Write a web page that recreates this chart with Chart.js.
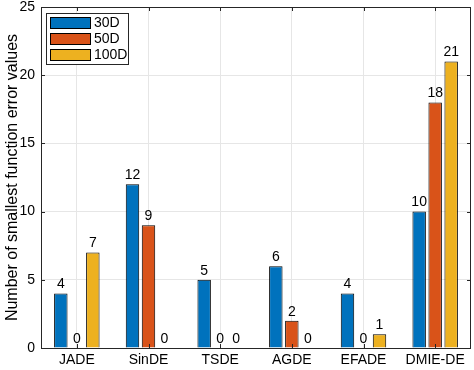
<!DOCTYPE html>
<html>
<head>
<meta charset="utf-8">
<script src="https://cdn.jsdelivr.net/npm/chart.js@4"></script>
<style>
html,body{margin:0;padding:0;background:#fff;}
#wrap{width:474px;height:370px;position:relative;}
</style>
</head>
<body>
<div id="wrap"><canvas id="c" width="474" height="370"></canvas></div>
<script>
const categories = ["JADE", "SinDE", "TSDE", "AGDE", "EFADE", "DMIE-DE"];
const seriesNames = ["30D", "50D", "100D"];
const values30D = [4, 12, 5, 6, 4, 10];
const values50D = [0, 9, 0, 2, 0, 18];
const values100D = [7, 0, 0, 0, 1, 21];
const yTicks = [0, 5, 10, 15, 20, 25];
const colors = ["#0072BD", "#D95319", "#EDB120"];

const FONT = "'Liberation Sans', Arial, Helvetica, sans-serif";

const overlay = {
  id: 'overlay',
  afterDatasetsDraw(chart) {
    const ctx = chart.ctx;
    const a = chart.chartArea;
    const xs = chart.scales.x, ys = chart.scales.y;
    ctx.save();
    // value labels
    ctx.fillStyle = '#000';
    ctx.font = '14px ' + FONT;
    ctx.textAlign = 'center';
    ctx.textBaseline = 'bottom';
    chart.data.datasets.forEach((ds, di) => {
      const meta = chart.getDatasetMeta(di);
      meta.data.forEach((bar, i) => {
        ctx.fillText(String(ds.data[i]), bar.x, bar.y - 2);
      });
    });
    // box
    ctx.strokeStyle = '#262626';
    ctx.lineWidth = 1;
    ctx.strokeRect(Math.round(a.left) + 0.5, Math.round(a.top) + 0.5, Math.round(a.right - a.left) - 1, Math.round(a.bottom - a.top));
    // inward ticks
    ctx.beginPath();
    yTicks.forEach(v => {
      const y = Math.round(ys.getPixelForValue(v)) + 0.5;
      ctx.moveTo(a.left, y); ctx.lineTo(a.left + 4, y);
      ctx.moveTo(a.right, y); ctx.lineTo(a.right - 4, y);
    });
    categories.forEach((c, i) => {
      const x = Math.round(xs.getPixelForValue(i)) + 0.5;
      ctx.moveTo(x, a.bottom); ctx.lineTo(x, a.bottom - 4);
      ctx.moveTo(x, a.top); ctx.lineTo(x, a.top + 4);
    });
    ctx.stroke();
    // legend
    const lx = 46, ly = 13, lw = 82, lh = 51;
    ctx.fillStyle = '#fff';
    ctx.fillRect(lx, ly, lw, lh);
    ctx.strokeStyle = '#262626';
    ctx.strokeRect(lx + 0.5, ly + 0.5, lw, lh);
    ctx.textAlign = 'left';
    ctx.textBaseline = 'middle';
    ctx.font = '14px ' + FONT;
    seriesNames.forEach((n, i) => {
      const ry = ly + 4 + i * 16;
      ctx.fillStyle = colors[i];
      ctx.fillRect(lx + 4, ry, 40, 11);
      ctx.strokeStyle = '#000';
      ctx.strokeRect(lx + 4.5, ry + 0.5, 40, 11);
      ctx.fillStyle = '#000';
      ctx.fillText(n, lx + 48, ry + 6);
    });
    ctx.restore();
  }
};

new Chart(document.getElementById('c'), {
  type: 'bar',
  data: {
    labels: categories,
    datasets: [
      { label: seriesNames[0], data: values30D, backgroundColor: colors[0], borderColor: '#000', borderWidth: 1 },
      { label: seriesNames[1], data: values50D, backgroundColor: colors[1], borderColor: '#000', borderWidth: 1 },
      { label: seriesNames[2], data: values100D, backgroundColor: colors[2], borderColor: '#000', borderWidth: 1 }
    ]
  },
  options: {
    responsive: false,
    animation: false,
    devicePixelRatio: 1,
    layout: { padding: { top: 7, right: 3, left: 0, bottom: 0 } },
    datasets: { bar: { categoryPercentage: 0.67, barPercentage: 0.84 } },
    plugins: { legend: { display: false }, tooltip: { enabled: false } },
    scales: {
      x: {
        offset: true,
        grid: { offset: false, color: '#e6e6e6', drawTicks: false, lineWidth: 1 },
        border: { display: false },
        ticks: { color: '#000', font: { size: 14, family: FONT }, padding: 4, maxRotation: 0 },
        afterFit(s) { s.height = 22; s.paddingLeft = 0; s.paddingRight = 0; }
      },
      y: {
        min: 0, max: 25,
        afterBuildTicks(s) { s.ticks = yTicks.map(v => ({ value: v })); },
        grid: { color: '#e6e6e6', drawTicks: false },
        border: { display: false },
        ticks: { color: '#000', font: { size: 14, family: FONT }, padding: 6 },
        title: { display: true, text: 'Number of smallest function error values', color: '#000', font: { size: 16, family: FONT }, padding: { top: 3, bottom: 0 } },
        afterFit(s) { s.width = 41; s.paddingTop = 0; s.paddingBottom = 0; }
      }
    }
  },
  plugins: [overlay]
});
</script>
</body>
</html>
